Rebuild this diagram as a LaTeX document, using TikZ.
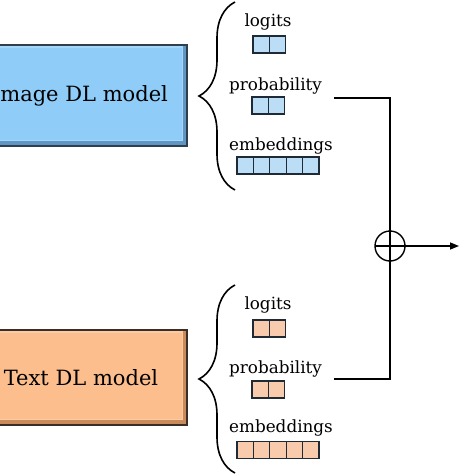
\documentclass[tikz,border=0pt]{standalone}
\usepackage{fontspec}
\setmainfont{DejaVu Serif}
\usetikzlibrary{decorations.pathreplacing,arrows.meta,positioning}
\definecolor{imgfill}{HTML}{8FCDF8}
\definecolor{imgedge}{HTML}{5F96C4}
\definecolor{imgline}{HTML}{2F3F50}
\definecolor{txtfill}{HTML}{FBBE8C}
\definecolor{txtedge}{HTML}{C98A5C}
\definecolor{txtline}{HTML}{3A2E26}
\definecolor{bluecell}{HTML}{BBDDF6}
\definecolor{orangecell}{HTML}{F8CBAD}
\definecolor{cellline}{HTML}{1E2A36}
\tikzset{
  lbl/.style={font=\fontsize{16.8}{19}\selectfont, inner sep=0pt, anchor=base},
  bigtext/.style={font=\fontsize{21}{24}\selectfont, inner sep=0pt},
  cellbox/.style={draw=cellline, line width=1.3pt, minimum width=16.4pt, minimum height=17pt, inner sep=0pt, outer sep=0pt, fill=#1},
  curly/.style={decorate, decoration={brace, amplitude=36pt, aspect=0.5}, line width=1.6pt},
  conn/.style={line width=1.5pt},
  plusnode/.style={circle, draw, line width=1.4pt, minimum size=30pt, inner sep=0pt, outer sep=0pt}
}
\begin{document}
\begin{tikzpicture}[x=1pt,y=-1pt]
\useasboundingbox (0,0) rectangle (474,474);
% ---------- Image model ----------
\fill[imgedge] (-25,45) rectangle (187,146);
\fill[imgfill!80!white] (-25,46) rectangle (183,141);
\fill[imgfill] (-25,48) rectangle (182,140);
\draw[imgline, line width=1.1pt] (-25,45) rectangle (187,146);
\node[bigtext] (imgtext) at (80,96) {Image DL model};
% ---------- Text model ----------
\fill[txtedge] (-25,330) rectangle (187,425);
\fill[txtfill!80!white] (-25,331) rectangle (183,420);
\fill[txtfill] (-25,333) rectangle (182,419);
\draw[txtline, line width=1.1pt] (-25,330) rectangle (187,425);
\node[bigtext] (txttext) at (81,378) {Text DL model};
% ---------- braces ----------
\coordinate (ibB) at (235,190);
\coordinate (ibT) at (235,2);
\draw[curly] (ibB) -- (ibT);
\coordinate (tbB) at (235,473);
\coordinate (tbT) at (235,285);
\draw[curly] (tbB) -- (tbT);
% ---------- image outputs ----------
\node[lbl] (il) at (268,26) {logits};
\node[cellbox=bluecell] (il1) at (261.2,44.5) {};
\node[cellbox=bluecell, right=0pt of il1] (il2) {};
\node[lbl] (ip) at (275.5,90) {probability};
\node[cellbox=bluecell] (ip1) at (260.2,105.5) {};
\node[cellbox=bluecell, right=0pt of ip1] (ip2) {};
\node[lbl] (ie) at (281,150) {embeddings};
\node[cellbox=bluecell] (ie1) at (245.2,165.5) {};
\node[cellbox=bluecell, right=0pt of ie1] (ie2) {};
\node[cellbox=bluecell, right=0pt of ie2] (ie3) {};
\node[cellbox=bluecell, right=0pt of ie3] (ie4) {};
\node[cellbox=bluecell, right=0pt of ie4] (ie5) {};
% ---------- text outputs ----------
\node[lbl] (tl) at (268,309) {logits};
\node[cellbox=orangecell] (tl1) at (261.2,328.5) {};
\node[cellbox=orangecell, right=0pt of tl1] (tl2) {};
\node[lbl] (tp) at (275.5,373) {probability};
\node[cellbox=orangecell] (tp1) at (260.2,389.5) {};
\node[cellbox=orangecell, right=0pt of tp1] (tp2) {};
\node[lbl] (te) at (281,432) {embeddings};
\node[cellbox=orangecell] (te1) at (245.2,450) {};
\node[cellbox=orangecell, right=0pt of te1] (te2) {};
\node[cellbox=orangecell, right=0pt of te2] (te3) {};
\node[cellbox=orangecell, right=0pt of te3] (te4) {};
\node[cellbox=orangecell, right=0pt of te4] (te5) {};
% ---------- fusion ----------
\node[plusnode] (plus) at (390,246) {};
\draw[line width=1.4pt] (plus.north) -- (plus.south) (plus.west) -- (plus.east);
\coordinate (ipout) at (334,98);
\coordinate (tpout) at (334,379);
\coordinate (outend) at (459,246);
\draw[conn] (ipout) -| (plus.north);
\draw[conn] (tpout) -| (plus.south);
\draw[conn, -{Triangle[length=9pt,width=7pt]}] (plus.east) -- (outend);
\end{tikzpicture}
\end{document}
